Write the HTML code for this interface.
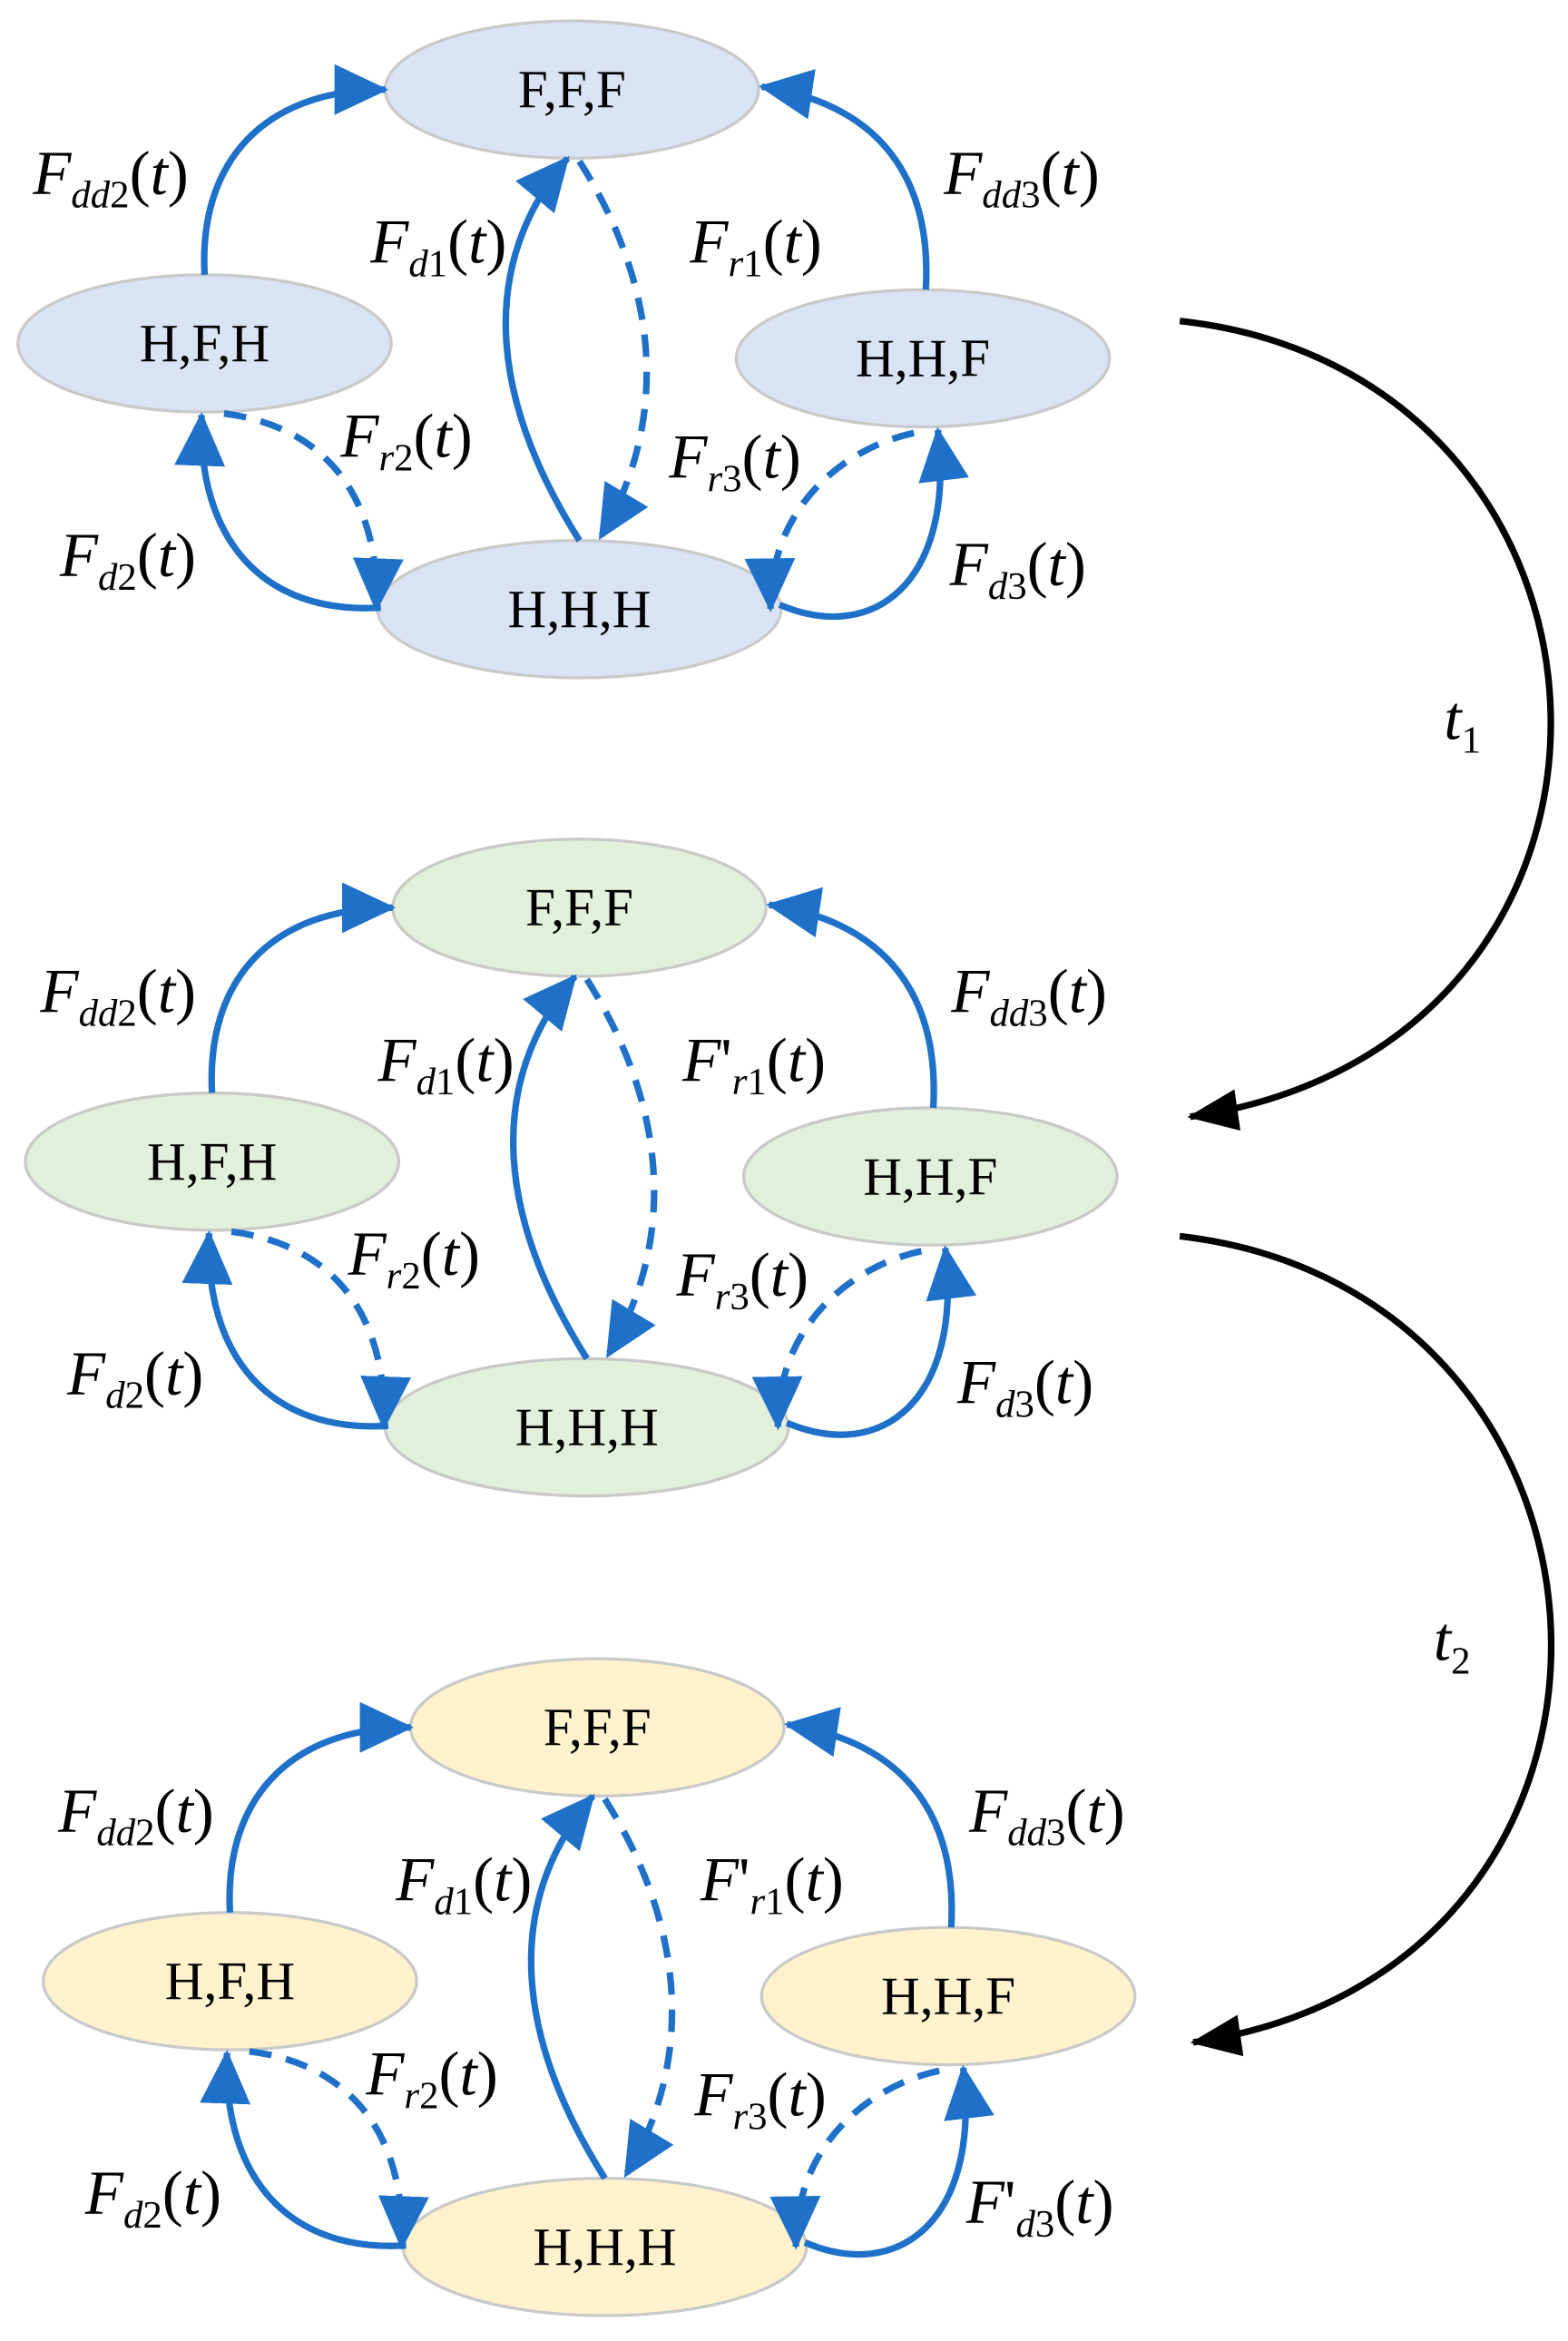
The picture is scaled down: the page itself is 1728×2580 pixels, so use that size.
<!DOCTYPE html>
<html><head><meta charset="utf-8"><style>
html,body{margin:0;padding:0;background:#fff;}
svg{display:block;}
.st{font-family:"Liberation Serif",serif;font-size:36px;fill:#000;}
.lb{font-family:"Liberation Serif",serif;font-size:42px;fill:#000;}
.i{font-style:italic;}
.s{font-style:italic;font-size:26px;}
.n{font-size:26px;}
.bl{fill:none;stroke:#1f70c8;stroke-width:4.4;}
.ds{stroke-dasharray:15 10;}
</style></head><body>
<svg width="1728" height="2580" viewBox="0 0 1050 1568" preserveAspectRatio="none" xmlns="http://www.w3.org/2000/svg">
<defs>
<marker id="a" markerUnits="userSpaceOnUse" markerWidth="40" markerHeight="36" refX="34" refY="17" orient="auto"><path d="M0,0 L36,17 L0,34 Z" fill="#1f70c8"/></marker>
<marker id="k" markerUnits="userSpaceOnUse" markerWidth="38" markerHeight="32" refX="32" refY="14" orient="auto"><path d="M0,0 L34,14 L0,28 Z" fill="#000"/></marker>
</defs>

<!-- Group 1 -->
<g transform="translate(0,0)">
<ellipse cx="383" cy="60" rx="125" ry="46" fill="#dae3f3" stroke="#c9c9c9" stroke-width="2"/>
<ellipse cx="137" cy="230" rx="125" ry="46" fill="#dae3f3" stroke="#c9c9c9" stroke-width="2"/>
<ellipse cx="618" cy="240" rx="125" ry="46" fill="#dae3f3" stroke="#c9c9c9" stroke-width="2"/>
<ellipse cx="388" cy="408" rx="135" ry="46" fill="#dae3f3" stroke="#c9c9c9" stroke-width="2"/>
<text class="st" x="383" y="72" text-anchor="middle">F,F,F</text>
<text class="st" x="137" y="242" text-anchor="middle">H,F,H</text>
<text class="st" x="618" y="252" text-anchor="middle">H,H,F</text>
<text class="st" x="388" y="420" text-anchor="middle">H,H,H</text>
<path class="bl" d="M137,184 C133,110 175,60 258,60" marker-end="url(#a)"/>
<path class="bl" d="M620,194 C624,120 590,70 510,58" marker-end="url(#a)"/>
<path class="bl" d="M388,362 C330,270 318,180 380,106" marker-end="url(#a)"/>
<path class="bl ds" d="M388,108 C440,190 450,280 402,360" marker-end="url(#a)"/>
<path class="bl" d="M255,407 C175,412 132,360 135,278" marker-end="url(#a)"/>
<path class="bl ds" d="M150,277 C215,285 255,330 252,408" marker-end="url(#a)"/>
<path class="bl ds" d="M612,290 C565,300 515,340 516,408" marker-end="url(#a)"/>
<path class="bl" d="M522,405 C585,432 640,390 628,288" marker-end="url(#a)"/>
<text class="lb" x="22" y="130"><tspan class="i">F</tspan><tspan class="s" dy="9">dd</tspan><tspan class="n">2</tspan><tspan dy="-9">(</tspan><tspan class="i">t</tspan>)</text>
<text class="lb" x="248" y="176"><tspan class="i">F</tspan><tspan class="s" dy="9">d</tspan><tspan class="n">1</tspan><tspan dy="-9">(</tspan><tspan class="i">t</tspan>)</text>
<text class="lb" x="462" y="176"><tspan class="i">F</tspan><tspan class="s" dy="9">r</tspan><tspan class="n">1</tspan><tspan dy="-9">(</tspan><tspan class="i">t</tspan>)</text>
<text class="lb" x="632" y="130"><tspan class="i">F</tspan><tspan class="s" dy="9">dd</tspan><tspan class="n">3</tspan><tspan dy="-9">(</tspan><tspan class="i">t</tspan>)</text>
<text class="lb" x="228" y="306"><tspan class="i">F</tspan><tspan class="s" dy="9">r</tspan><tspan class="n">2</tspan><tspan dy="-9">(</tspan><tspan class="i">t</tspan>)</text>
<text class="lb" x="448" y="320"><tspan class="i">F</tspan><tspan class="s" dy="9">r</tspan><tspan class="n">3</tspan><tspan dy="-9">(</tspan><tspan class="i">t</tspan>)</text>
<text class="lb" x="40" y="386"><tspan class="i">F</tspan><tspan class="s" dy="9">d</tspan><tspan class="n">2</tspan><tspan dy="-9">(</tspan><tspan class="i">t</tspan>)</text>
<text class="lb" x="636" y="392"><tspan class="i">F</tspan><tspan class="s" dy="9">d</tspan><tspan class="n">3</tspan><tspan dy="-9">(</tspan><tspan class="i">t</tspan>)</text>
</g>

<!-- Group 2 -->
<g transform="translate(5,548)">
<ellipse cx="383" cy="60" rx="125" ry="46" fill="#e2efda" stroke="#c9c9c9" stroke-width="2"/>
<ellipse cx="137" cy="230" rx="125" ry="46" fill="#e2efda" stroke="#c9c9c9" stroke-width="2"/>
<ellipse cx="618" cy="240" rx="125" ry="46" fill="#e2efda" stroke="#c9c9c9" stroke-width="2"/>
<ellipse cx="388" cy="408" rx="135" ry="46" fill="#e2efda" stroke="#c9c9c9" stroke-width="2"/>
<text class="st" x="383" y="72" text-anchor="middle">F,F,F</text>
<text class="st" x="137" y="242" text-anchor="middle">H,F,H</text>
<text class="st" x="618" y="252" text-anchor="middle">H,H,F</text>
<text class="st" x="388" y="420" text-anchor="middle">H,H,H</text>
<path class="bl" d="M137,184 C133,110 175,60 258,60" marker-end="url(#a)"/>
<path class="bl" d="M620,194 C624,120 590,70 510,58" marker-end="url(#a)"/>
<path class="bl" d="M388,362 C330,270 318,180 380,106" marker-end="url(#a)"/>
<path class="bl ds" d="M388,108 C440,190 450,280 402,360" marker-end="url(#a)"/>
<path class="bl" d="M255,407 C175,412 132,360 135,278" marker-end="url(#a)"/>
<path class="bl ds" d="M150,277 C215,285 255,330 252,408" marker-end="url(#a)"/>
<path class="bl ds" d="M612,290 C565,300 515,340 516,408" marker-end="url(#a)"/>
<path class="bl" d="M522,405 C585,432 640,390 628,288" marker-end="url(#a)"/>
<text class="lb" x="22" y="130"><tspan class="i">F</tspan><tspan class="s" dy="9">dd</tspan><tspan class="n">2</tspan><tspan dy="-9">(</tspan><tspan class="i">t</tspan>)</text>
<text class="lb" x="248" y="176"><tspan class="i">F</tspan><tspan class="s" dy="9">d</tspan><tspan class="n">1</tspan><tspan dy="-9">(</tspan><tspan class="i">t</tspan>)</text>
<text class="lb" x="452" y="176"><tspan class="i">F</tspan>'<tspan class="s" dy="9">r</tspan><tspan class="n">1</tspan><tspan dy="-9">(</tspan><tspan class="i">t</tspan>)</text>
<text class="lb" x="632" y="130"><tspan class="i">F</tspan><tspan class="s" dy="9">dd</tspan><tspan class="n">3</tspan><tspan dy="-9">(</tspan><tspan class="i">t</tspan>)</text>
<text class="lb" x="228" y="306"><tspan class="i">F</tspan><tspan class="s" dy="9">r</tspan><tspan class="n">2</tspan><tspan dy="-9">(</tspan><tspan class="i">t</tspan>)</text>
<text class="lb" x="448" y="320"><tspan class="i">F</tspan><tspan class="s" dy="9">r</tspan><tspan class="n">3</tspan><tspan dy="-9">(</tspan><tspan class="i">t</tspan>)</text>
<text class="lb" x="40" y="386"><tspan class="i">F</tspan><tspan class="s" dy="9">d</tspan><tspan class="n">2</tspan><tspan dy="-9">(</tspan><tspan class="i">t</tspan>)</text>
<text class="lb" x="636" y="392"><tspan class="i">F</tspan><tspan class="s" dy="9">d</tspan><tspan class="n">3</tspan><tspan dy="-9">(</tspan><tspan class="i">t</tspan>)</text>
</g>

<!-- Group 3 -->
<g transform="translate(17,1097)">
<ellipse cx="383" cy="60" rx="125" ry="46" fill="#fff2cc" stroke="#c9c9c9" stroke-width="2"/>
<ellipse cx="137" cy="230" rx="125" ry="46" fill="#fff2cc" stroke="#c9c9c9" stroke-width="2"/>
<ellipse cx="618" cy="240" rx="125" ry="46" fill="#fff2cc" stroke="#c9c9c9" stroke-width="2"/>
<ellipse cx="388" cy="408" rx="135" ry="46" fill="#fff2cc" stroke="#c9c9c9" stroke-width="2"/>
<text class="st" x="383" y="72" text-anchor="middle">F,F,F</text>
<text class="st" x="137" y="242" text-anchor="middle">H,F,H</text>
<text class="st" x="618" y="252" text-anchor="middle">H,H,F</text>
<text class="st" x="388" y="420" text-anchor="middle">H,H,H</text>
<path class="bl" d="M137,184 C133,110 175,60 258,60" marker-end="url(#a)"/>
<path class="bl" d="M620,194 C624,120 590,70 510,58" marker-end="url(#a)"/>
<path class="bl" d="M388,362 C330,270 318,180 380,106" marker-end="url(#a)"/>
<path class="bl ds" d="M388,108 C440,190 450,280 402,360" marker-end="url(#a)"/>
<path class="bl" d="M255,407 C175,412 132,360 135,278" marker-end="url(#a)"/>
<path class="bl ds" d="M150,277 C215,285 255,330 252,408" marker-end="url(#a)"/>
<path class="bl ds" d="M612,290 C565,300 515,340 516,408" marker-end="url(#a)"/>
<path class="bl" d="M522,405 C585,432 640,390 628,288" marker-end="url(#a)"/>
<text class="lb" x="22" y="130"><tspan class="i">F</tspan><tspan class="s" dy="9">dd</tspan><tspan class="n">2</tspan><tspan dy="-9">(</tspan><tspan class="i">t</tspan>)</text>
<text class="lb" x="248" y="176"><tspan class="i">F</tspan><tspan class="s" dy="9">d</tspan><tspan class="n">1</tspan><tspan dy="-9">(</tspan><tspan class="i">t</tspan>)</text>
<text class="lb" x="452" y="176"><tspan class="i">F</tspan>'<tspan class="s" dy="9">r</tspan><tspan class="n">1</tspan><tspan dy="-9">(</tspan><tspan class="i">t</tspan>)</text>
<text class="lb" x="632" y="130"><tspan class="i">F</tspan><tspan class="s" dy="9">dd</tspan><tspan class="n">3</tspan><tspan dy="-9">(</tspan><tspan class="i">t</tspan>)</text>
<text class="lb" x="228" y="306"><tspan class="i">F</tspan><tspan class="s" dy="9">r</tspan><tspan class="n">2</tspan><tspan dy="-9">(</tspan><tspan class="i">t</tspan>)</text>
<text class="lb" x="448" y="320"><tspan class="i">F</tspan><tspan class="s" dy="9">r</tspan><tspan class="n">3</tspan><tspan dy="-9">(</tspan><tspan class="i">t</tspan>)</text>
<text class="lb" x="40" y="386"><tspan class="i">F</tspan><tspan class="s" dy="9">d</tspan><tspan class="n">2</tspan><tspan dy="-9">(</tspan><tspan class="i">t</tspan>)</text>
<text class="lb" x="630" y="392"><tspan class="i">F</tspan>'<tspan class="s" dy="9">d</tspan><tspan class="n">3</tspan><tspan dy="-9">(</tspan><tspan class="i">t</tspan>)</text>
</g>

<!-- black transition arrows -->
<path d="M790,215 C1110,250 1130,700 797,748" fill="none" stroke="#000" stroke-width="4.4" marker-end="url(#k)"/>
<path d="M790,828 C1110,865 1130,1320 799,1368" fill="none" stroke="#000" stroke-width="4.4" marker-end="url(#k)"/>
<text class="lb" x="967" y="495"><tspan class="i">t</tspan><tspan class="n" dy="9">1</tspan></text>
<text class="lb" x="960" y="1112"><tspan class="i">t</tspan><tspan class="n" dy="9">2</tspan></text>
</svg>
</body></html>
